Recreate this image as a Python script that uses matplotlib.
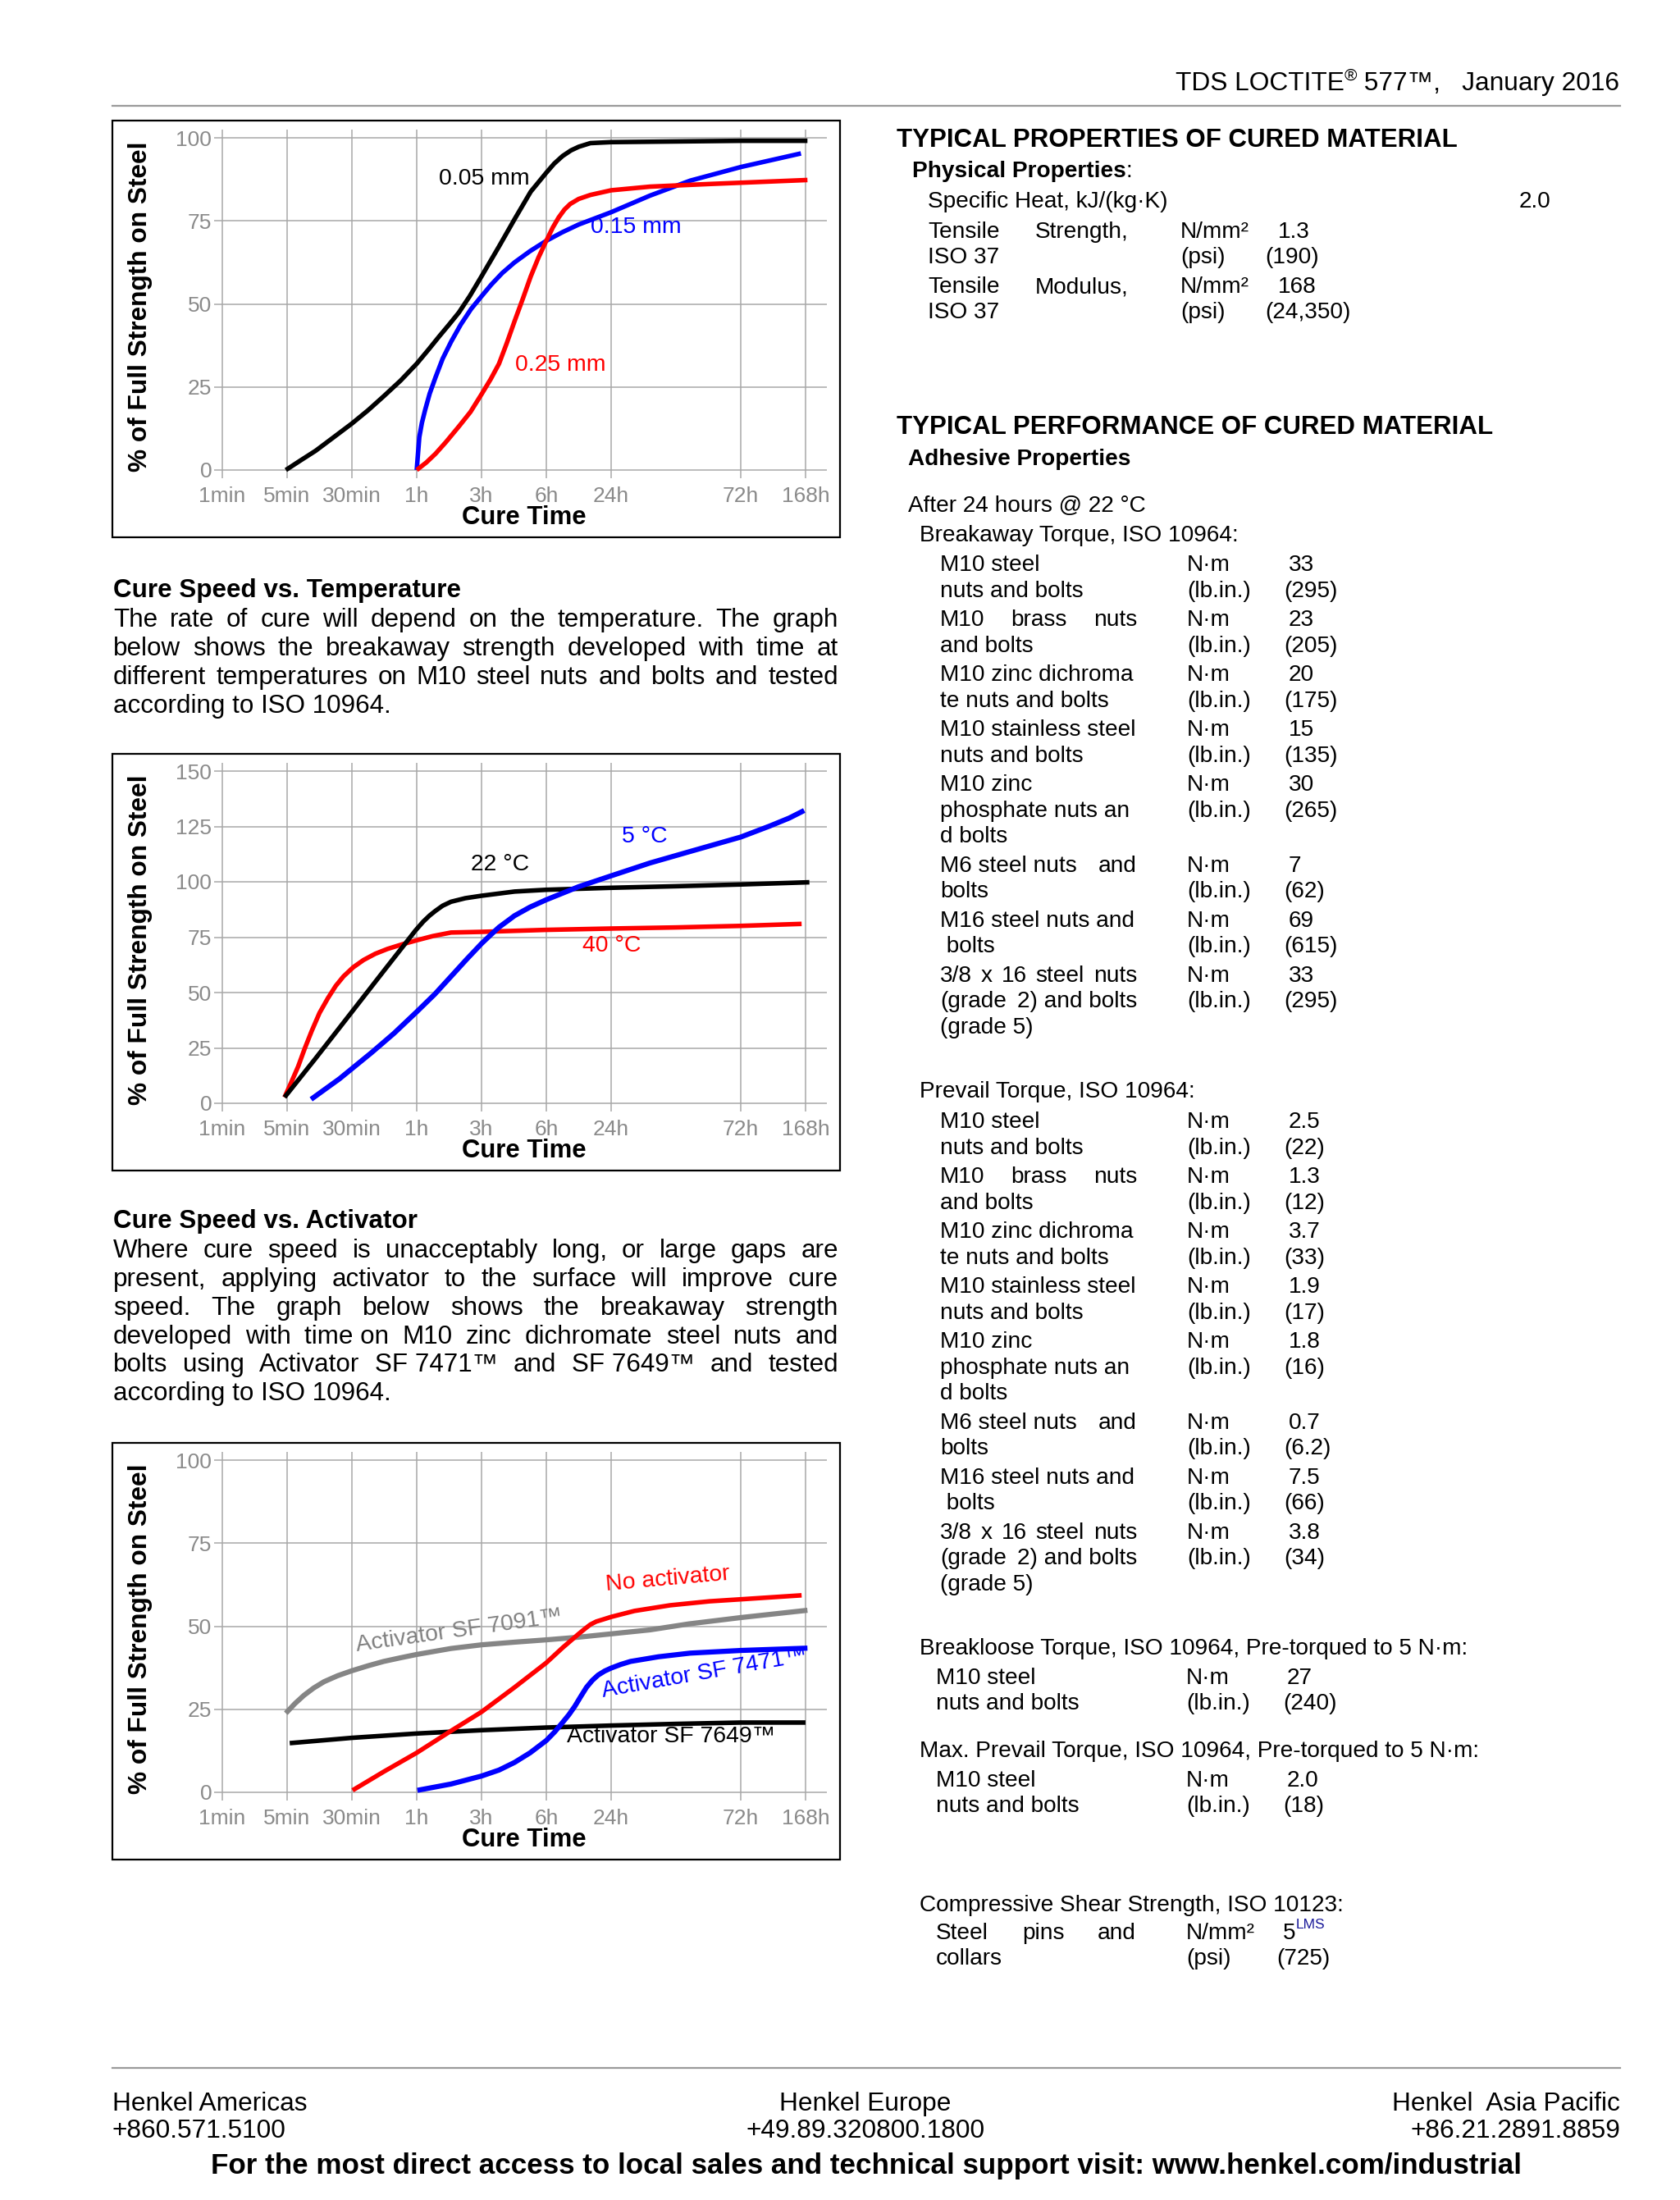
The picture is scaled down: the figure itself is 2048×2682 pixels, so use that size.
import matplotlib
matplotlib.use("Agg")
import matplotlib.pyplot as plt
from matplotlib.font_manager import FontProperties
from matplotlib.patches import Rectangle

W, H = 2048, 2682
FONT = "Liberation Sans"
plt.rcParams["font.family"] = [FONT, "DejaVu Sans"]

# ---- cure-time axis (position on the axis -> label)
time_labels = ["1min", "5min", "30min", "1h", "3h", "6h", "24h", "72h", "168h"]
time_pos = [0, 1, 2, 3, 4, 5, 6, 8, 9]

# ---- chart 1: cure speed vs. gap (% of full strength on steel)
gap005_x = [0.98, 1.2, 1.44, 1.7, 2.0, 2.25, 2.49, 2.75, 3.0, 3.18, 3.35, 3.5, 3.65, 3.82, 4.0, 4.27, 4.51,
            4.76, 5.0, 5.12, 5.25, 5.38, 5.5, 5.68, 6.0, 7.0, 8.0, 9.03]
gap005_y = [0, 2.8, 5.8, 9.6, 14.0, 18.0, 22.2, 26.9, 32.0, 36.2, 40.3, 43.8, 47.4, 52.4, 58.3, 67.3, 75.5,
            83.8, 89.5, 92.2, 94.5, 96.2, 97.3, 98.4, 98.7, 98.9, 99.1, 99.1]
gap015_x = [3.0, 3.02, 3.04, 3.08, 3.13, 3.2, 3.29, 3.4, 3.53, 3.68, 3.84, 4.0, 4.15, 4.32, 4.51, 4.75, 5.0,
            5.25, 5.5, 6.0, 6.6, 7.22, 8.0, 8.93]
gap015_y = [0, 5.0, 9.9, 14.2, 18.1, 23.0, 27.9, 33.5, 38.6, 43.8, 48.5, 52.3, 55.8, 59.3, 62.5, 65.9, 69.0,
            71.6, 73.9, 77.6, 82.6, 87.1, 91.2, 95.3]
gap025_x = [3.0, 3.15, 3.29, 3.45, 3.65, 3.83, 4.0, 4.14, 4.27, 4.39, 4.51, 4.64, 4.76, 4.88, 5.0, 5.1, 5.19,
            5.28, 5.37, 5.5, 5.68, 6.0, 6.6, 7.52, 9.03]
gap025_y = [0, 2.3, 4.9, 8.4, 13.1, 17.5, 22.8, 27.3, 32.0, 38.2, 44.8, 51.7, 58.3, 64.0, 69.0, 73.0, 76.0,
            78.4, 80.1, 81.6, 82.8, 84.2, 85.3, 86.1, 87.3]

# ---- chart 2: cure speed vs. temperature
t22_x = [0.96, 1.44, 2.0, 2.49, 2.86, 2.98, 3.1, 3.2, 3.29, 3.4, 3.53, 3.75, 4.0, 4.51, 5.0, 6.0, 7.0, 8.0, 9.06]
t22_y = [2.7, 20.3, 41.3, 59.7, 73.5, 78.0, 82.0, 84.8, 86.9, 89.2, 91.0, 92.6, 93.7, 95.6, 96.4, 97.3, 98.0, 98.8, 99.8]
t40_x = [0.96, 1.06, 1.17, 1.27, 1.38, 1.5, 1.63, 1.75, 1.87, 2.02, 2.18, 2.36, 2.55, 2.78, 3.0, 3.25, 3.53,
         4.0, 5.0, 6.0, 7.0, 8.0, 8.94]
t40_y = [2.7, 9.2, 16.6, 24.6, 32.7, 40.8, 47.5, 53.0, 57.3, 61.4, 64.7, 67.5, 69.7, 71.8, 73.6, 75.5, 77.1,
         77.4, 78.3, 78.9, 79.4, 80.1, 81.0]
t5_x = [1.37, 1.81, 2.3, 2.65, 3.0, 3.28, 3.53, 3.77, 4.0, 4.14, 4.27, 4.4, 4.51, 4.75, 5.0, 5.5, 6.0, 6.6,
        7.22, 8.0, 8.45, 8.75, 8.98]
t5_y = [1.8, 11.1, 22.8, 31.6, 41.3, 49.3, 57.3, 65.0, 72.1, 76.0, 79.5, 82.3, 84.7, 88.6, 91.9, 97.8, 102.7,
        108.5, 113.7, 120.2, 125.2, 128.8, 132.2]

# ---- chart 3: cure speed vs. activator
sf7091_x = [0.98, 1.12, 1.26, 1.41, 1.57, 1.78, 2.0, 2.25, 2.49, 2.75, 3.0, 3.53, 4.0, 4.51, 5.0, 5.5, 6.0,
            6.6, 7.2, 8.0, 9.03]
sf7091_y = [23.8, 26.7, 29.2, 31.4, 33.3, 35.1, 36.6, 38.1, 39.4, 40.5, 41.5, 43.3, 44.4, 45.2, 45.9, 46.7,
            47.7, 48.9, 50.7, 52.6, 54.8]
sf7649_x = [1.04, 2.0, 3.0, 4.0, 5.0, 6.0, 7.0, 8.0, 9.0]
sf7649_y = [14.8, 16.4, 17.7, 18.7, 19.5, 20.1, 20.6, 21.0, 21.0]
noact_x = [2.01, 2.49, 3.0, 3.53, 4.0, 4.51, 5.0, 5.25, 5.5, 5.6, 5.68, 5.77, 5.87, 6.0, 6.36, 6.91, 7.52,
           8.0, 8.94]
noact_y = [0.6, 6.2, 11.9, 18.5, 24.2, 31.6, 39.0, 43.5, 47.7, 49.3, 50.5, 51.4, 52.0, 52.8, 54.6, 56.3, 57.5,
           58.1, 59.3]
sf7471_x = [3.01, 3.53, 4.0, 4.27, 4.51, 4.75, 5.0, 5.13, 5.25, 5.35, 5.44, 5.53, 5.62, 5.71, 5.8, 5.9, 6.0,
            6.15, 6.3, 6.73, 7.22, 8.0, 9.03]
sf7471_y = [0.6, 2.5, 4.9, 6.7, 9.0, 11.9, 15.6, 18.2, 21.0, 23.4, 25.9, 28.8, 31.6, 33.7, 35.3, 36.5, 37.4,
            38.5, 39.4, 40.8, 41.9, 42.7, 43.4]

# ---- text of the page (\u00a0 keeps words together when a line is justified)
para_temp = ["The rate of cure will depend on the temperature. The graph",
             "below shows the breakaway strength developed with time at",
             "different temperatures on M10 steel nuts and bolts and tested",
             "according to ISO 10964."]
para_act = ["Where cure speed is unacceptably long, or large gaps are",
            "present, applying activator to the surface will improve cure",
            "speed. The graph below shows the breakaway strength",
            "developed with time\u00a0on M10 zinc dichromate steel nuts and",
            "bolts using Activator SF\u00a07471\u2122 and SF\u00a07649\u2122 and tested",
            "according to ISO 10964."]

breakaway_rows = [
    (["M10 steel", "nuts and bolts"], "33", "(295)"),
    (["M10 brass nuts", "and bolts"], "23", "(205)"),
    (["M10 zinc dichroma", "te nuts and bolts"], "20", "(175)"),
    (["M10 stainless steel", "nuts and bolts"], "15", "(135)"),
    (["M10 zinc", "phosphate nuts an", "d bolts"], "30", "(265)"),
    (["M6\u00a0steel\u00a0nuts and", "bolts"], "7", "(62)"),
    (["M16 steel nuts and", " bolts"], "69", "(615)"),
    (["3/8 x 16 steel nuts", "(grade 2)\u00a0and\u00a0bolts", "(grade 5)"], "33", "(295)"),
]
prevail_rows = [
    (["M10 steel", "nuts and bolts"], "2.5", "(22)"),
    (["M10 brass nuts", "and bolts"], "1.3", "(12)"),
    (["M10 zinc dichroma", "te nuts and bolts"], "3.7", "(33)"),
    (["M10 stainless steel", "nuts and bolts"], "1.9", "(17)"),
    (["M10 zinc", "phosphate nuts an", "d bolts"], "1.8", "(16)"),
    (["M6\u00a0steel\u00a0nuts and", "bolts"], "0.7", "(6.2)"),
    (["M16 steel nuts and", " bolts"], "7.5", "(66)"),
    (["3/8 x 16 steel nuts", "(grade 2)\u00a0and\u00a0bolts", "(grade 5)"], "3.8", "(34)"),
]
JUSTIFIED = {"M10 brass nuts", "M6\u00a0steel\u00a0nuts and", "3/8 x 16 steel nuts",
             "(grade 2)\u00a0and\u00a0bolts"}

BODY = 22.6     # left column / footer
RCOL = 20.2     # right column
HEAD = 22.5

fig = plt.figure(figsize=(W / 100, H / 100), dpi=100)
page = fig.add_axes([0, 0, 1, 1])
page.set_xlim(0, W)
page.set_ylim(H, 0)
page.axis("off")
renderer = fig.canvas.get_renderer()


def width(s, size, weight="normal"):
    fp = FontProperties(family=FONT, size=size, weight=weight)
    return renderer.get_text_width_height_descent(s, fp, ismath=False)[0]


def put(x, y, s, size=RCOL, weight="normal", color="black", ha="left", rot=0):
    # y is the middle of the capitals
    return page.text(x, y + 0.358 * size / 0.72, s, fontsize=size, fontweight=weight,
                     color=color, ha=ha, va="baseline", rotation=rot, family=FONT)


def justify(x0, x1, y, s, size=RCOL, weight="normal"):
    words = [w for w in s.split(" ") if w]
    ws = [width(w, size, weight) for w in words]
    gap = (x1 - x0 - sum(ws)) / max(len(words) - 1, 1)
    x = x0
    for w, wd in zip(words, ws):
        put(x, y, w, size, weight)
        x += wd + gap


# ---------------- header
right = " 577\u2122,   January 2016"
xr = 1974 - width(right, 22.8)
put(xr, 99, right, 22.8)
wr = width("\u00ae", 15)
put(xr - wr, 90, "\u00ae", 15)
put(xr - wr, 99, "TDS LOCTITE", 22.8, ha="right")
page.plot([137, 1975], [129, 129], color="#9a9a9a", lw=1.6)

# ---------------- left column paragraphs
put(138, 717, "Cure Speed vs. Temperature", BODY, "bold")
for i, line in enumerate(para_temp):
    y = 753 + i * 35
    if i < len(para_temp) - 1:
        justify(138, 1022, y, line, BODY)
    else:
        put(138, y, line, BODY)

put(138, 1486, "Cure Speed vs. Activator", BODY, "bold")
for i, line in enumerate(para_act):
    y = 1522 + i * 34.8
    if i < len(para_act) - 1:
        justify(138, 1022, y, line, BODY)
    else:
        put(138, y, line, BODY)


# ---------------- charts
def cure_chart(top, ymax):
    page.add_patch(Rectangle((137, top), 887, 508, fill=False, ec="black", lw=1.6))
    l, r = 261, 1008
    t, b = top + 11, top + 436
    ax = fig.add_axes([l / W, 1 - b / H, (r - l) / W, (b - t) / H])
    ax.set_facecolor("none")
    pad = ymax * 10 / 405
    ax.set_ylim(-pad, ymax + pad)
    ax.set_xlim(-0.127, 9.33)
    ax.set_xticks(time_pos, time_labels)
    ax.set_yticks(range(0, ymax + 1, 25))
    ax.grid(True, color="#a8a8a8", lw=1.1)
    ax.set_axisbelow(True)
    for s in ax.spines.values():
        s.set_visible(False)
    ax.tick_params(length=0, labelcolor="#8a8a8a", labelsize=19)
    ax.tick_params(axis="x", pad=7.5)
    ax.tick_params(axis="y", pad=2)
    for lab in ax.get_xticklabels() + ax.get_yticklabels():
        lab.set_family(FONT)
    page.text(171, top + 227, "% of Full Strength on Steel", rotation=90, ha="center",
              va="center", fontsize=22.8, fontweight="bold", family=FONT)
    put(639, top + 481, "Cure Time", 22.4, "bold", ha="center")
    return ax


def curve(ax, x, y, color, lw=4.0):
    ax.plot(x, y, color=color, lw=lw, solid_joinstyle="round", solid_capstyle="butt")


def label(ax, x, y, s, color, rot=0, size=20.4):
    ax.text(x, y, s, color=color, fontsize=size, ha="center", va="center",
            rotation=rot, rotation_mode="anchor", family=FONT)


ax1 = cure_chart(147, 100)
curve(ax1, gap005_x, gap005_y, "black")
curve(ax1, gap015_x, gap015_y, "#0000ff")
curve(ax1, gap025_x, gap025_y, "#ff0000")
label(ax1, 4.04, 87.7, "0.05 mm", "black")
label(ax1, 6.38, 73.1, "0.15 mm", "#0000ff")
label(ax1, 5.22, 31.6, "0.25 mm", "#ff0000")

ax2 = cure_chart(919, 150)
curve(ax2, t40_x, t40_y, "#ff0000")
curve(ax2, t22_x, t22_y, "black")
curve(ax2, t5_x, t5_y, "#0000ff", 4.5)
label(ax2, 4.28, 107.8, "22 \u00b0C", "black")
label(ax2, 6.52, 120.4, "5 \u00b0C", "#0000ff")
label(ax2, 6.01, 71.1, "40 \u00b0C", "#ff0000")

ax3 = cure_chart(1759, 100)
curve(ax3, sf7091_x, sf7091_y, "#858585", 4.5)
curve(ax3, sf7649_x, sf7649_y, "black")
curve(ax3, noact_x, noact_y, "#ff0000")
curve(ax3, sf7471_x, sf7471_y, "#0000ff", 4.5)
label(ax3, 6.87, 64.2, "No activator", "#ff0000", 5)
label(ax3, 3.66, 48.6, "Activator SF 7091\u2122", "#808080", 8)
label(ax3, 7.44, 35.8, "Activator SF 7471\u2122", "#0000ff", 10)
label(ax3, 6.92, 16.8, "Activator SF 7649\u2122", "black")

# ---------------- right column: properties
put(1093, 168, "TYPICAL PROPERTIES OF CURED MATERIAL", HEAD, "bold")
put(1112, 206, "Physical Properties", RCOL, "bold")
put(1112 + width("Physical Properties", RCOL, "bold"), 206, ":", RCOL)
put(1131, 243, "Specific Heat, kJ/(kg\u00b7K)")
put(1852, 243, "2.0")
for y0, name, nm, psi in [(280, "Strength,", "1.3", "(190)"), (347, "Modulus,", "168", "(24,350)")]:
    put(1131, y0, "Tensile")
    put(1262, y0, name)
    put(1439, y0, "N/mm\u00b2")
    put(1558, y0, nm)
    put(1131, y0 + 31, "ISO 37")
    put(1439, y0 + 31, "(psi)")
    put(1542, y0 + 31, psi)

put(1093, 518, "TYPICAL PERFORMANCE OF CURED MATERIAL", HEAD, "bold")
put(1107, 557, "Adhesive Properties", RCOL, "bold")
put(1107, 614, "After 24 hours @ 22 \u00b0C")


def torque_block(y, rows):
    for lines, nm, lbin in rows:
        for i, line in enumerate(lines):
            yy = y + i * 31.5
            if line in JUSTIFIED:
                justify(1146, 1386, yy, line)
            else:
                put(1146, yy, line)
        put(1447, y, "N\u00b7m")
        put(1447, y + 31.5, "(lb.in.)")
        put(1571, y, nm)
        put(1565, y + 31.5, lbin)
        y += len(lines) * 31.5 + 4


put(1121, 650, "Breakaway Torque, ISO 10964:")
torque_block(686, breakaway_rows)
put(1121, 1328, "Prevail Torque, ISO 10964:")
torque_block(1365, prevail_rows)

put(1121, 2007, "Breakloose Torque, ISO 10964, Pre-torqued to 5 N\u00b7m:")
put(1141, 2043, "M10 steel"); put(1446, 2043, "N\u00b7m"); put(1569, 2043, "27")
put(1141, 2074, "nuts and bolts"); put(1446, 2074, "(lb.in.)"); put(1564, 2074, "(240)")

put(1121, 2132, "Max. Prevail Torque, ISO 10964, Pre-torqued to 5 N\u00b7m:")
put(1141, 2168, "M10 steel"); put(1446, 2168, "N\u00b7m"); put(1569, 2168, "2.0")
put(1141, 2199, "nuts and bolts"); put(1446, 2199, "(lb.in.)"); put(1564, 2199, "(18)")

put(1121, 2320, "Compressive Shear Strength, ISO 10123:")
justify(1141, 1385, 2354, "Steel pins and")
put(1446, 2354, "N/mm\u00b2")
put(1564, 2354, "5")
put(1564 + width("5", RCOL), 2345, "LMS", 12.5, color="#1a1a9a")
put(1141, 2385, "collars"); put(1446, 2385, "(psi)"); put(1556, 2385, "(725)")

# ---------------- footer
page.plot([137, 1975], [2521, 2521], color="#9a9a9a", lw=1.6)
put(137, 2562, "Henkel Americas", 22.8)
put(137, 2595, "+860.571.5100", 22.8)
put(1055, 2562, "Henkel Europe", 22.8, ha="center")
put(1055, 2595, "+49.89.320800.1800", 22.8, ha="center")
put(1975, 2562, "Henkel  Asia Pacific", 22.8, ha="right")
put(1975, 2595, "+86.21.2891.8859", 22.8, ha="right")
foot = "For the most direct access to local sales and technical support visit: www.henkel.com/industrial"
fsize = 22.8 * 1599 / width(foot, 22.8, "bold")
put(1056, 2637, foot, fsize, "bold", ha="center")

fig.savefig("out.png", dpi=100, facecolor="white")
